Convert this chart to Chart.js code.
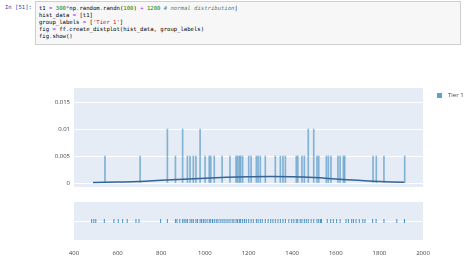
<!DOCTYPE html>
<html>
<head>
<meta charset="utf-8">
<script src="https://cdn.jsdelivr.net/npm/chart.js@4"></script>
<style>
  body { margin: 0; width: 474px; height: 260px; background: #fff; position: relative; overflow: hidden; }
  .mono { font-family: "DejaVu Sans Mono", monospace; font-size: 5.6px; line-height: 7px; white-space: pre; }
  #prompt { position: absolute; left: 5px; top: 3.5px; color: #303F9F; }
  #cell { position: absolute; left: 35px; top: 1px; width: 424px; height: 42px; background: #f7f7f7; border: 1px solid #cfcfcf; }
  #code { position: absolute; left: 3px; top: 2.5px; color: #000; }
  .n { color: #080; } .o { color: #AA22FF; } .c { color: #408080; font-style: italic; } .s { color: #BA2121; }
  #c1 { position: absolute; left: 0; top: 80px; }
  #c2 { position: absolute; left: 0; top: 195px; }
  #legend { position: absolute; left: 437px; top: 91px; font: 6px "Open Sans"; color: #444; }
  #legend span.box { display: inline-block; width: 5px; height: 5px; background: rgba(31,119,180,0.7); vertical-align: middle; margin-right: 6px; }
</style>
</head>
<body>
<div id="prompt" class="mono">In [51]:</div>
<div id="cell"><div id="code" class="mono">t1 <span class="o">=</span> <span class="n">300</span><span class="o">*</span>np<span class="o">.</span>random<span class="o">.</span>randn(<span class="n">100</span>) <span class="o">+</span> <span class="n">1200</span> <span class="c"># normal distribution</span>|
hist_data <span class="o">=</span> [t1]
group_labels <span class="o">=</span> [<span class="s">'Tier 1'</span>]
fig <span class="o">=</span> ff<span class="o">.</span>create_distplot(hist_data, group_labels)
fig<span class="o">.</span>show()</div></div>
<canvas id="c1" width="474" height="115"></canvas>
<canvas id="c2" width="474" height="65"></canvas>
<div id="legend"><span class="box"></span>Tier 1</div>
<script>
// histogram bars visible in the picture (x position, density)
var barX = [542, 703, 828, 865, 898, 920, 932, 947, 959, 978, 1001, 1020, 1027, 1043, 1079, 1115, 1143, 1150, 1158, 1164, 1173,
            1201, 1212, 1236, 1244, 1254, 1277, 1323, 1346, 1358, 1369, 1419, 1426, 1445, 1456, 1474, 1499, 1514, 1522,
            1557, 1566, 1578, 1610, 1620, 1635, 1641, 1771, 1786, 1821, 1916];
var barY = [0.005, 0.005, 0.01, 0.005, 0.01, 0.005, 0.005, 0.005, 0.005, 0.01, 0.005, 0.005, 0.005, 0.005, 0.005, 0.005, 0.005, 0.005, 0.005, 0.005, 0.005,
            0.005, 0.005, 0.005, 0.005, 0.005, 0.005, 0.005, 0.005, 0.005, 0.005, 0.005, 0.005, 0.005, 0.005, 0.01, 0.01, 0.005, 0.005,
            0.005, 0.005, 0.005, 0.005, 0.005, 0.005, 0.005, 0.005, 0.005, 0.005, 0.005];

// kde curve
var kdeX = [487, 600, 700, 800, 900, 1000, 1100, 1200, 1300, 1400, 1500, 1600, 1700, 1800, 1914];
var kdeY = [0.0001, 0.00018, 0.00028, 0.0005, 0.0007, 0.0009, 0.00105, 0.00115, 0.0012, 0.00115, 0.001, 0.00075, 0.0005, 0.0003, 0.00012];

// rug values
var rugX = [481, 491, 500, 539, 583, 603, 623, 644, 684, 698, 797,
            828, 865, 872, 885, 898, 905, 913, 920, 932, 940, 947, 959, 966, 978, 985, 993, 1001, 1010, 1020, 1027, 1035, 1043,
            1052, 1060, 1070, 1079, 1088, 1097, 1106, 1115, 1125, 1133, 1143, 1150, 1158, 1164, 1173, 1182, 1190, 1201, 1212,
            1222, 1236, 1244, 1254, 1263, 1277, 1290, 1302, 1312, 1323, 1335, 1346, 1358, 1369, 1385, 1398, 1408, 1419, 1426,
            1437, 1445, 1456, 1465, 1474, 1487, 1499, 1514, 1522, 1530, 1535,
            1561, 1577, 1589, 1604, 1620, 1647, 1658, 1673, 1681, 1693, 1708, 1724, 1734, 1769, 1785, 1821, 1880, 1915];

var yTicks = [0, 0.005, 0.01, 0.015];
var xTicks = [400, 600, 800, 1000, 1200, 1400, 1600, 1800, 2000];

var tickFont = { family: "Open Sans", size: 6 };
var bgPlugin = {
  id: 'bg',
  beforeDraw: function(chart) {
    var a = chart.chartArea, ctx = chart.ctx;
    ctx.save();
    ctx.fillStyle = '#E5ECF6';
    ctx.fillRect(a.left, a.top, a.right - a.left, a.bottom - a.top);
    ctx.restore();
  }
};

new Chart(document.getElementById('c1'), {
  type: 'bar',
  data: {
    datasets: [{
      type: 'line',
      data: kdeX.map(function(x, i) { return { x: x, y: kdeY[i] }; }),
      borderColor: 'rgb(52,101,150)',
      borderWidth: 1.5,
      pointRadius: 0,
      tension: 0.4,
      fill: false
    }, {
      data: barX.map(function(x, i) { return { x: x, y: barY[i] }; }),
      backgroundColor: 'rgba(31,119,180,0.5)',
      barThickness: 1
    }]
  },
  options: {
    responsive: false,
    animation: false,
    layout: { padding: { left: 0, right: 51, top: 8, bottom: 8 } },
    plugins: { legend: { display: false }, tooltip: { enabled: false } },
    scales: {
      x: { type: 'linear', min: 400, max: 2000, offset: false, display: false },
      y: {
        min: -0.00074, max: 0.0176,
        afterFit: function(s) { s.width = 74; },
        afterBuildTicks: function(s) { s.ticks = yTicks.map(function(v) { return { value: v }; }); },
        grid: { color: '#fff', lineWidth: 1, drawTicks: false },
        border: { display: false },
        ticks: { font: tickFont, color: '#444', padding: 4, callback: function(v) { return String(v); } }
      }
    }
  },
  plugins: [bgPlugin]
});

new Chart(document.getElementById('c2'), {
  type: 'scatter',
  data: {
    datasets: [{
      data: rugX.map(function(x) { return { x: x, y: 0 }; }),
      pointStyle: 'line',
      rotation: 90,
      radius: 2,
      borderWidth: 1,
      borderColor: 'rgba(31,119,180,0.8)'
    }]
  },
  options: {
    responsive: false,
    animation: false,
    layout: { padding: { left: 0, right: 51, top: 7, bottom: 0 } },
    plugins: { legend: { display: false }, tooltip: { enabled: false } },
    scales: {
      x: {
        type: 'linear', min: 400, max: 2000,
        afterBuildTicks: function(s) { s.ticks = xTicks.map(function(v) { return { value: v }; }); },
        afterFit: function(s) { s.height = 20; },
        grid: { display: false },
        border: { display: false },
        ticks: { font: tickFont, color: '#444', padding: 2, maxRotation: 0, callback: function(v) { return String(v); } }
      },
      y: {
        min: -1, max: 1,
        afterFit: function(s) { s.width = 74; },
        afterBuildTicks: function(s) { s.ticks = [{ value: 0 }]; },
        grid: { color: '#fff', drawTicks: false },
        border: { display: false },
        ticks: { display: false }
      }
    }
  },
  plugins: [bgPlugin]
});
</script>
</body>
</html>
